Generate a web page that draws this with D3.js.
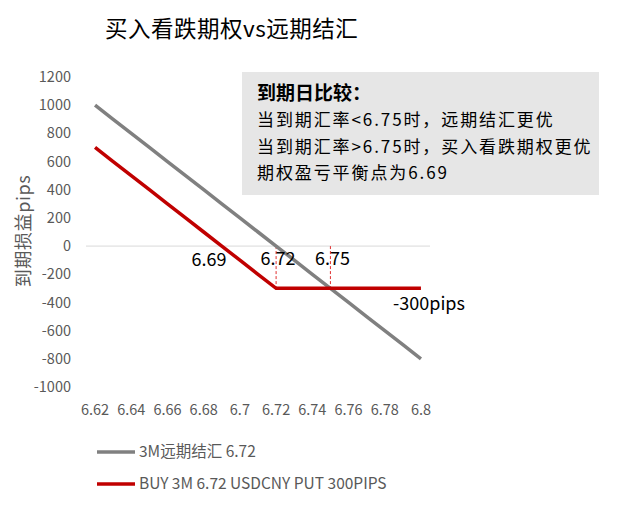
<!DOCTYPE html>
<html><head><meta charset="utf-8">
<script src="https://cdn.jsdelivr.net/npm/d3@7"></script>
<style>body{margin:0;background:#fff}svg{font-family:"Noto Sans CJK SC","Noto Sans",sans-serif}</style>
</head><body><svg id="c" width="617" height="507"></svg>
<script>
const rates = [6.62,6.63,6.64,6.65,6.66,6.67,6.68,6.69,6.70,6.71,6.72,6.73,6.74,6.75,6.76,6.77,6.78,6.79,6.80];
const forwardPnL = [1000,900,800,700,600,500,400,300,200,100,0,-100,-200,-300,-400,-500,-600,-700,-800];
const putPnL = [700,600,500,400,300,200,100,0,-100,-200,-300,-300,-300,-300,-300,-300,-300,-300,-300];
const xTicks = [6.62,6.64,6.66,6.68,6.70,6.72,6.74,6.76,6.78,6.80];
const yTicks = [-1000,-800,-600,-400,-200,0,200,400,600,800,1000,1200];
const seriesNames = ["3M远期结汇 6.72","BUY 3M 6.72 USDCNY PUT 300PIPS"];
const markers = [{v:6.72,label:"6.72"},{v:6.75,label:"6.75"}];
const boxLines = ["当到期汇率<6.75时，远期结汇更优","当到期汇率>6.75时，买入看跌期权更优","期权盈亏平衡点为6.69"];

const svg = d3.select("#c");
const x = d3.scaleLinear().domain([6.615,6.805]).range([86,430]);
const y = d3.scaleLinear().domain([-1000,1200]).range([387,77]);

svg.append("text").attr("x",105).attr("y",37).attr("font-size",22.5).attr("letter-spacing",0.5).attr("fill","#000").text("买入看跌期权vs远期结汇");

svg.append("line").attr("x1",86).attr("x2",430).attr("y1",y(0)).attr("y2",y(0)).attr("stroke","#d9d9d9").attr("stroke-width",1);

svg.selectAll(".yt").data(yTicks).enter().append("text")
  .attr("x",71).attr("y",d=>y(d)).attr("dy","0.35em").attr("text-anchor","end")
  .attr("font-size",14.5).attr("fill","#595959").text(d=>d);
svg.selectAll(".xt").data(xTicks).enter().append("text")
  .attr("x",d=>x(d)).attr("y",410).attr("dy","0.35em").attr("text-anchor","middle")
  .attr("font-size",14.5).attr("fill","#595959").text(d=>+d.toFixed(2));

svg.append("text").attr("transform","translate(30,231) rotate(-90)").attr("text-anchor","middle")
  .attr("font-size",18).attr("letter-spacing",0.6).attr("fill","#595959").text("到期损益pips");

svg.selectAll(".mk").data(markers).enter().append("line")
  .attr("x1",d=>x(d.v)).attr("x2",d=>x(d.v)).attr("y1",y(0)).attr("y2",y(-300))
  .attr("stroke","#e03030").attr("stroke-width",1).attr("stroke-dasharray","3,2");

const line = d3.line().x((d,i)=>x(rates[i])).y(d=>y(d));
svg.append("path").datum(forwardPnL).attr("d",line).attr("fill","none").attr("stroke","#808080").attr("stroke-width",3.5);
svg.append("path").datum(putPnL).attr("d",line).attr("fill","none").attr("stroke","#c00000").attr("stroke-width",3.5);

svg.append("text").attr("x",209).attr("y",266).attr("text-anchor","middle").attr("font-size",18).attr("fill","#000").text("6.69");
svg.selectAll(".ml").data(markers).enter().append("text")
  .attr("x",d=>x(d.v)+2).attr("y",265).attr("text-anchor","middle").attr("font-size",18).attr("fill","#000").text(d=>d.label);
svg.append("text").attr("x",393).attr("y",310).attr("font-size",18).attr("fill","#000").text("-300pips");

svg.append("rect").attr("x",242).attr("y",72).attr("width",357).attr("height",123).attr("fill","#e6e6e6");
svg.append("text").attr("x",257).attr("y",100).attr("font-size",19).attr("font-weight","bold").attr("fill","#000").text("到期日比较：");
svg.selectAll(".bl").data(boxLines).enter().append("text")
  .attr("x",257).attr("y",(d,i)=>126+i*26.5).attr("font-size",17).attr("letter-spacing",1.9).attr("fill","#000").text(d=>d);

const colors = ["#808080","#c00000"];
seriesNames.forEach((n,i)=>{
  const ly = 452 + i*32;
  svg.append("line").attr("x1",97).attr("x2",135).attr("y1",ly).attr("y2",ly).attr("stroke",colors[i]).attr("stroke-width",3.5);
  svg.append("text").attr("x",139).attr("y",ly).attr("dy","0.35em").attr("font-size",15.5).attr("fill","#595959").text(n);
});
</script></body></html>
